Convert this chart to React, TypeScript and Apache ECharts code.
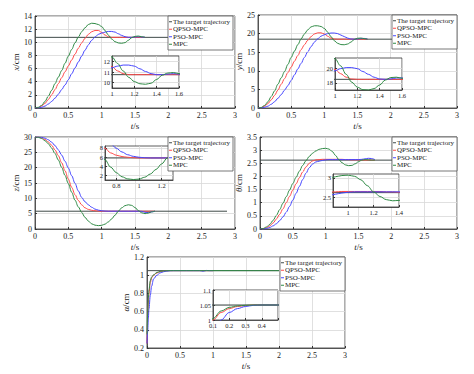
import React, { useEffect, useRef } from 'react';
import * as echarts from 'echarts';

const SERIES_NAMES = ['The target trajectory', 'QPSO-MPC', 'PSO-MPC', 'MPC'];
const COLORS = ['#3f4a48', '#ff4a4a', '#4646ff', '#2f8a45'];
const FONT = '"Liberation Serif", "Times New Roman", serif';

// Plot 1: x/cm
const T_XY = [0, 0.05, 0.1, 0.15, 0.2, 0.25, 0.3, 0.35, 0.4, 0.45, 0.5, 0.55, 0.6, 0.65, 0.7, 0.75, 0.8, 0.85, 0.9, 0.95, 1, 1.05, 1.1, 1.15, 1.2, 1.25, 1.3, 1.35, 1.4, 1.45, 1.5, 1.55, 1.6, 1.65];
const X_TARGET = 10.75;
const X_MPC = [0, 0.1, 0.4, 1.0, 1.8, 2.7, 3.7, 4.7, 5.7, 6.8, 7.9, 8.9, 9.9, 10.8, 11.6, 12.2, 12.7, 12.9, 12.85, 12.7, 12.4, 11.8, 11.1, 10.5, 10.1, 9.9, 9.85, 9.95, 10.3, 10.7, 10.9, 10.95, 10.85, 10.75];
const X_QPSO = [0, 0.05, 0.3, 0.7, 1.3, 2.0, 2.8, 3.7, 4.6, 5.5, 6.4, 7.3, 8.2, 9.1, 9.9, 10.6, 11.2, 11.6, 11.8, 11.8, 11.5, 11.1, 10.85, 10.75, 10.75, 10.75, 10.75, 10.75, 10.75, 10.75, 10.75, 10.75, 10.75, 10.75];
const X_PSO = [0, 0.02, 0.1, 0.3, 0.6, 1.0, 1.5, 2.1, 2.8, 3.5, 4.3, 5.2, 6.1, 7.0, 7.9, 8.8, 9.6, 10.3, 10.8, 11.2, 11.4, 11.55, 11.65, 11.65, 11.55, 11.3, 11.05, 10.85, 10.75, 10.75, 10.8, 10.85, 10.8, 10.75];

// Plot 2: y/cm
const Y_TARGET = 18.5;
const Y_MPC = [0, 0.15, 0.7, 1.7, 3.1, 4.6, 6.4, 8.1, 9.8, 11.7, 13.6, 15.3, 17.0, 18.6, 19.9, 21.0, 21.8, 22.1, 22.1, 21.9, 21.4, 20.4, 19.2, 18.1, 17.4, 17.05, 17.0, 17.2, 17.7, 18.4, 18.75, 18.8, 18.65, 18.5];
const Y_QPSO = [0, 0.1, 0.5, 1.2, 2.2, 3.4, 4.8, 6.4, 7.9, 9.5, 11.0, 12.6, 14.1, 15.7, 17.0, 18.2, 19.2, 19.9, 20.2, 20.2, 19.9, 19.3, 18.8, 18.55, 18.5, 18.5, 18.5, 18.5, 18.5, 18.5, 18.5, 18.5, 18.5, 18.5];
const Y_PSO = [0, 0.03, 0.2, 0.5, 1.0, 1.7, 2.6, 3.6, 4.8, 6.0, 7.4, 8.9, 10.5, 12.0, 13.6, 15.1, 16.5, 17.7, 18.6, 19.3, 19.7, 20.0, 20.15, 20.15, 20.0, 19.6, 19.2, 18.8, 18.55, 18.5, 18.55, 18.7, 18.7, 18.55];

// Plot 3: z/cm
const T_Z = [0, 0.05, 0.1, 0.15, 0.2, 0.25, 0.3, 0.35, 0.4, 0.45, 0.5, 0.55, 0.6, 0.65, 0.7, 0.75, 0.8, 0.85, 0.9, 0.95, 1, 1.05, 1.1, 1.15, 1.2, 1.25, 1.3, 1.35, 1.4, 1.45, 1.5, 1.55, 1.6, 1.65, 1.7, 1.75, 1.8];
const Z_TARGET = 5.8;
const Z_MPC = [30, 29.9, 29.5, 28.8, 27.8, 26.4, 24.6, 22.5, 20.1, 17.5, 14.8, 12.0, 9.4, 7.2, 5.4, 3.8, 2.6, 1.7, 1.25, 1.1, 1.2, 1.6, 2.3, 3.3, 4.5, 5.8, 6.9, 7.6, 7.9, 7.7, 7.0, 6.0, 5.3, 5.0, 5.2, 5.6, 5.8];
const Z_QPSO = [30, 29.95, 29.7, 29.2, 28.4, 27.3, 25.8, 23.9, 21.6, 19.0, 16.3, 13.6, 11.2, 9.3, 7.9, 6.9, 6.4, 6.1, 5.95, 5.85, 5.8, 5.8, 5.8, 5.8, 5.8, 5.8, 5.8, 5.8, 5.8, 5.8, 5.8, 5.8, 5.8, 5.8, 5.8, 5.8, 5.8];
const Z_PSO = [30, 30, 29.9, 29.6, 29.1, 28.3, 27.2, 25.8, 24.1, 22.1, 19.9, 17.4, 14.9, 12.4, 10.3, 8.9, 7.9, 7.1, 6.5, 6.15, 5.95, 5.85, 5.8, 5.8, 5.8, 5.8, 5.8, 5.8, 5.8, 5.8, 5.8, 5.8, 5.75, 5.45, 5.35, 5.6, 5.8];

// Plot 4: theta/cm
const T_TH = [0, 0.05, 0.1, 0.15, 0.2, 0.25, 0.3, 0.35, 0.4, 0.45, 0.5, 0.55, 0.6, 0.65, 0.7, 0.75, 0.8, 0.85, 0.9, 0.95, 1, 1.05, 1.1, 1.15, 1.2, 1.25, 1.3, 1.35, 1.4, 1.45, 1.5, 1.55, 1.6, 1.65, 1.7, 1.75];
const TH_TARGET = 2.62;
const TH_MPC = [0, 0.02, 0.08, 0.18, 0.33, 0.52, 0.74, 0.98, 1.23, 1.48, 1.73, 1.97, 2.2, 2.42, 2.6, 2.76, 2.88, 2.97, 3.03, 3.06, 3.07, 3.04, 2.95, 2.8, 2.64, 2.52, 2.44, 2.41, 2.42, 2.48, 2.56, 2.62, 2.64, 2.63, 2.62, 2.62];
const TH_QPSO = [0, 0.01, 0.05, 0.12, 0.23, 0.38, 0.56, 0.77, 1.0, 1.24, 1.48, 1.72, 1.95, 2.17, 2.36, 2.5, 2.59, 2.63, 2.64, 2.65, 2.65, 2.65, 2.65, 2.65, 2.65, 2.65, 2.64, 2.64, 2.63, 2.63, 2.63, 2.62, 2.62, 2.62, 2.62, 2.62];
const TH_PSO = [0, 0, 0.02, 0.06, 0.12, 0.2, 0.32, 0.46, 0.64, 0.86, 1.1, 1.36, 1.62, 1.88, 2.12, 2.33, 2.47, 2.55, 2.58, 2.61, 2.63, 2.64, 2.64, 2.64, 2.64, 2.64, 2.64, 2.64, 2.64, 2.64, 2.64, 2.65, 2.67, 2.69, 2.68, 2.64];

// Plot 5: alpha/cm
const T_A = [0, 0.01, 0.02, 0.03, 0.05, 0.07, 0.1, 0.15, 0.2, 0.25, 0.3, 0.35, 0.4, 0.5, 0.6, 0.7, 0.8, 0.85, 0.9, 0.95, 1.0];
const T_A_MPC = [0, 0.01, 0.02, 0.03, 0.05, 0.07, 0.1, 0.15, 0.2, 0.25, 0.3, 0.35, 0.4, 0.5, 0.6, 0.7, 0.8, 0.85, 0.9, 0.95, 1.0, 1.5, 2.0];
const A_TARGET = 1.05;
const A_MPC = [0.35, 0.58, 0.74, 0.84, 0.94, 0.98, 1.005, 1.03, 1.042, 1.047, 1.049, 1.05, 1.05, 1.05, 1.05, 1.05, 1.05, 1.05, 1.05, 1.05, 1.05, 1.05, 1.05];
const A_QPSO = [0.25, 0.5, 0.68, 0.8, 0.92, 0.97, 1.0, 1.025, 1.038, 1.045, 1.048, 1.05, 1.05, 1.05, 1.05, 1.05, 1.05, 1.05, 1.05, 1.05, 1.05];
const A_PSO = [0.25, 0.38, 0.52, 0.63, 0.78, 0.88, 0.96, 1.0, 1.025, 1.038, 1.045, 1.049, 1.05, 1.05, 1.05, 1.05, 1.05, 1.044, 1.052, 1.05, 1.05];

// Axis tick values
const MAIN_X_RANGE = [0, 3, 0.5];
const Y_AXES = [
  [0, 14, 2],
  [0, 25, 5],
  [0, 30, 5],
  [0, 3.5, 0.5],
  [0.2, 1.2, 0.2],
];
const Y_NAMES = ['x', 'y', 'z', 'θ', 'α'];
const INSET_X = [
  { min: 1, max: 1.6, ticks: [1, 1.2, 1.4, 1.6], labels: [1, 1.2, 1.4, 1.6] },
  { min: 1, max: 1.6, ticks: [1, 1.2, 1.4, 1.6], labels: [1, 1.2, 1.4, 1.6] },
  { min: 0.7, max: 1.3, ticks: [0.8, 1, 1.2], labels: [0.8, 1, 1.2] },
  { min: 0.88, max: 1.4, ticks: [1, 1.2, 1.4], labels: [1, 1.2, 1.4] },
  { min: 0.1, max: 0.5, ticks: [0.1, 0.2, 0.3, 0.4, 0.5], labels: [0.1, 0.2, 0.3, 0.4] },
];
const INSET_Y = [
  { min: 9.5, max: 12.5, ticks: [10, 11, 12] },
  { min: 17, max: 21.5, ticks: [18, 20] },
  { min: 1, max: 8.4, ticks: [2, 4, 6, 8] },
  { min: 2.25, max: 3.1, ticks: [2.5, 3] },
  { min: 1, max: 1.1, ticks: [1, 1.05, 1.1] },
];

const PLOTS = [
  { t: T_XY, tMpc: T_XY, target: X_TARGET, targetEnd: 2.1, q: X_QPSO, p: X_PSO, m: X_MPC },
  { t: T_XY, tMpc: T_XY, target: Y_TARGET, targetEnd: 2.1, q: Y_QPSO, p: Y_PSO, m: Y_MPC },
  { t: T_Z, tMpc: T_Z, target: Z_TARGET, targetEnd: 2.88, q: Z_QPSO, p: Z_PSO, m: Z_MPC },
  { t: T_TH, tMpc: T_TH, target: TH_TARGET, targetEnd: 2.1, q: TH_QPSO, p: TH_PSO, m: TH_MPC },
  { t: T_A, tMpc: T_A_MPC, target: A_TARGET, targetEnd: 2.0, q: A_QPSO, p: A_PSO, m: A_MPC },
];

// layout (pixels)
const MAIN_GRIDS = [
  { left: 35, top: 16, width: 200, height: 92 },
  { left: 258, top: 15, width: 199, height: 93 },
  { left: 35, top: 137, width: 200, height: 92 },
  { left: 260, top: 137, width: 197, height: 92 },
  { left: 147, top: 257, width: 198, height: 91 },
];
const INSET_GRIDS = [
  { left: 112, top: 56, width: 67, height: 32 },
  { left: 335, top: 58, width: 67, height: 32 },
  { left: 105, top: 146, width: 68, height: 34 },
  { left: 333, top: 174, width: 66, height: 33 },
  { left: 213, top: 290, width: 65, height: 30 },
];
const LEGEND_POS = [
  { right: 241, top: 16 },
  { right: 17, top: 15 },
  { right: 241, top: 137 },
  { right: 17, top: 137 },
  { right: 129, top: 257 },
];

function buildOption() {
  const grid: any[] = [];
  const xAxis: any[] = [];
  const yAxis: any[] = [];
  const series: any[] = [];
  const legend: any[] = [];
  const axisColor = '#333';
  const labelStyle = { fontFamily: FONT, fontSize: 8, color: '#222', margin: 3 };
  const nameStyle = {
    fontFamily: FONT,
    fontSize: 9,
    color: '#222',
    rich: { i: { fontFamily: FONT, fontSize: 9, fontStyle: 'italic', color: '#222' } },
  };

  MAIN_GRIDS.forEach((g, i) => {
    grid.push({ ...g, show: true, borderColor: axisColor, borderWidth: 0.8, backgroundColor: '#fff', containLabel: false });
    xAxis.push({
      type: 'value', gridIndex: i, min: MAIN_X_RANGE[0], max: MAIN_X_RANGE[1], interval: MAIN_X_RANGE[2],
      name: '{i|t}/s', nameLocation: 'middle', nameGap: 13, nameTextStyle: nameStyle,
      axisLine: { show: true, lineStyle: { color: axisColor, width: 0.8 } },
      axisTick: { show: true, inside: true, length: 2, lineStyle: { color: axisColor } },
      axisLabel: labelStyle,
      splitLine: { show: true, lineStyle: { color: '#d8d8d8', width: 0.8 } },
    });
    const [ymin, ymax, yint] = Y_AXES[i];
    yAxis.push({
      type: 'value', gridIndex: i, min: ymin, max: ymax, interval: yint,
      name: `{i|${Y_NAMES[i]}}/cm`, nameLocation: 'middle', nameRotate: 90, nameGap: 15, nameTextStyle: nameStyle,
      axisLine: { show: true, lineStyle: { color: axisColor, width: 0.8 } },
      axisTick: { show: true, inside: true, length: 2, lineStyle: { color: axisColor } },
      axisLabel: labelStyle,
      splitLine: { show: true, lineStyle: { color: '#d8d8d8', width: 0.8 } },
    });
    legend.push({
      ...LEGEND_POS[i],
      orient: 'vertical',
      data: SERIES_NAMES,
      backgroundColor: '#fff',
      borderColor: '#555',
      borderWidth: 0.8,
      borderRadius: 0,
      padding: [2, 3, 2, 1],
      itemGap: 0,
      itemWidth: 3,
      itemHeight: 1,
      icon: 'rect',
      selectedMode: false,
      textStyle: { fontFamily: FONT, fontSize: 7, color: '#222', lineHeight: 7.5, padding: [0, 0, 0, -4] },
      z: 20,
    });
  });

  INSET_GRIDS.forEach((g, k) => {
    const i = k + 5;
    grid.push({ ...g, show: true, borderColor: axisColor, borderWidth: 0.8, backgroundColor: '#fff', z: 5 });
    const ix = INSET_X[k];
    const iy = INSET_Y[k];
    const insetLabel = { fontFamily: FONT, fontSize: 6.5, color: '#222', margin: 2 };
    xAxis.push({
      type: 'value', gridIndex: i, min: ix.min, max: ix.max, z: 5,
      axisLine: { show: true, lineStyle: { color: axisColor, width: 0.8 } },
      axisTick: { show: true, inside: true, length: 2, customValues: ix.ticks, lineStyle: { color: axisColor } },
      axisLabel: { ...insetLabel, customValues: ix.labels },
      splitLine: { show: true, lineStyle: { color: '#d8d8d8', width: 0.8 } },
    });
    yAxis.push({
      type: 'value', gridIndex: i, min: iy.min, max: iy.max, z: 5,
      axisLine: { show: true, lineStyle: { color: axisColor, width: 0.8 } },
      axisTick: { show: true, inside: true, length: 2, customValues: iy.ticks, lineStyle: { color: axisColor } },
      axisLabel: { ...insetLabel, customValues: iy.ticks },
      splitLine: { show: true, lineStyle: { color: '#d8d8d8', width: 0.8 } },
    });
  });

  PLOTS.forEach((pl, k) => {
    [k, k + 5].forEach((ai) => {
      const common = {
        type: 'line', xAxisIndex: ai, yAxisIndex: ai, symbol: 'none', showSymbol: false,
        silent: true, clip: true, z: ai >= 5 ? 6 : 2,
      };
      series.push({ ...common, name: SERIES_NAMES[0], color: COLORS[0], lineStyle: { width: 1, color: COLORS[0] },
        data: [[0, pl.target], [pl.targetEnd, pl.target]] });
      series.push({ ...common, name: SERIES_NAMES[1], color: COLORS[1], smooth: 0.35, smoothMonotone: 'x', lineStyle: { width: 1, color: COLORS[1] },
        data: pl.t.map((t, j) => [t, pl.q[j]]) });
      series.push({ ...common, name: SERIES_NAMES[2], color: COLORS[2], smooth: 0.35, smoothMonotone: 'x', lineStyle: { width: 1, color: COLORS[2] },
        data: pl.t.map((t, j) => [t, pl.p[j]]) });
      series.push({ ...common, name: SERIES_NAMES[3], color: COLORS[3], smooth: 0.35, smoothMonotone: 'x', lineStyle: { width: 1, color: COLORS[3] },
        data: pl.tMpc.map((t, j) => [t, pl.m[j]]) });
    });
  });

  return {
    animation: false,
    backgroundColor: '#fff',
    textStyle: { fontFamily: FONT },
    grid, xAxis, yAxis, series, legend,
  };
}

export default function App() {
  const ref = useRef<HTMLDivElement>(null);
  useEffect(() => {
    if (!ref.current) return;
    const chart = echarts.init(ref.current, undefined, { renderer: 'svg' });
    chart.setOption(buildOption() as any);
    return () => chart.dispose();
  }, []);
  return <div ref={ref} style={{ position: 'absolute', left: 0, top: 0, width: 474, height: 374 }} />;
}
